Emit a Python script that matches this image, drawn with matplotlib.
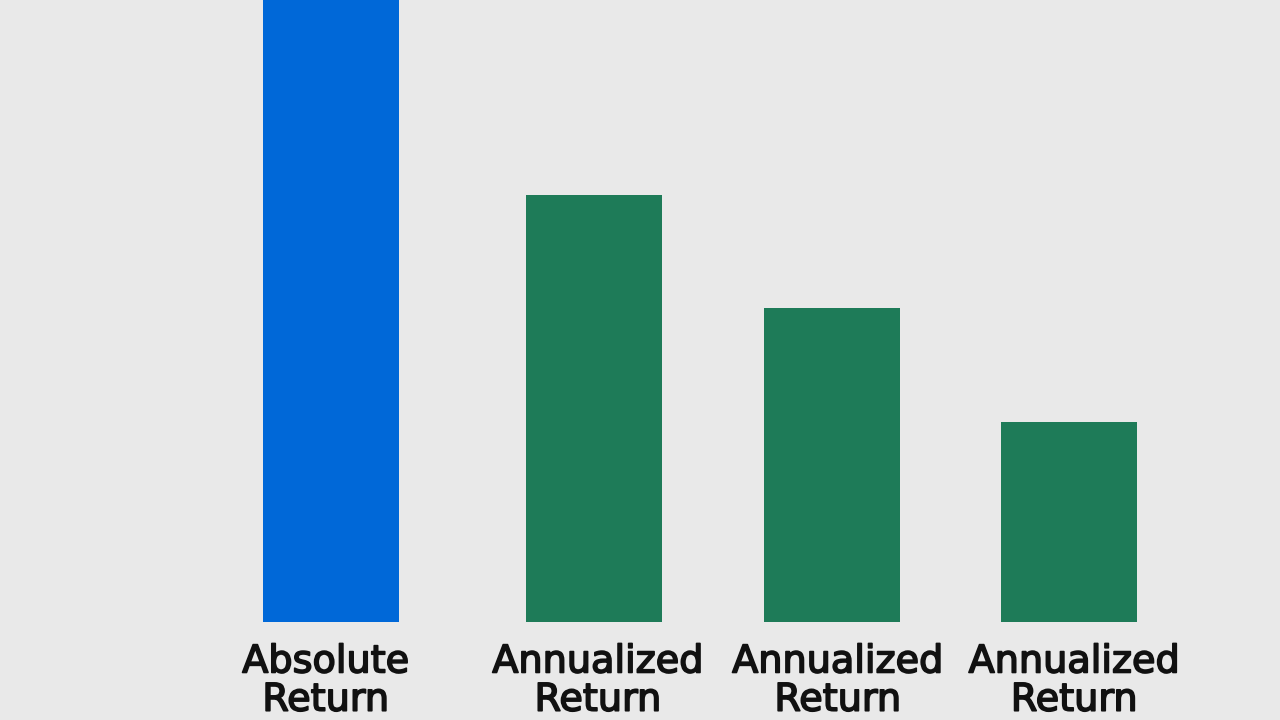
import matplotlib
matplotlib.use("Agg")
import matplotlib.pyplot as plt
import matplotlib.patheffects as pe

# data
labels = ["Absolute\nReturn", "Annualized\nReturn", "Annualized\nReturn", "Annualized\nReturn"]
values = [112, 68.6, 50.5, 32.2]
colors = ["#0068d8", "#1e7b58", "#1e7b58", "#1e7b58"]

bg = "#e9e9e9"

fig = plt.figure(figsize=(12.8, 7.2), dpi=100, facecolor=bg)
ax = fig.add_axes([0, 0.136, 1, 0.864], facecolor=bg)

# first gap a bit wider than the others
pos = [0, 1.0, 1.905, 2.806]
ax.bar(pos, values, width=0.517, color=colors)

ax.set_xlim(-1.259, 3.608)
ax.set_ylim(0, 100)
ax.axis("off")

# labels sit a little right of the bar centres, except the first
nudge = [-0.02, 0.015, 0.022, 0.02]
for x, dx, lab in zip(pos, nudge, labels):
    ax.text(x + dx, -3.6, lab, ha="center", va="top", fontsize=27.5,
            family="DejaVu Sans", color="#111111", linespacing=1.08,
            path_effects=[pe.withStroke(linewidth=1.2, foreground="#111111")])

fig.savefig("out.png", dpi=100, facecolor=bg)
